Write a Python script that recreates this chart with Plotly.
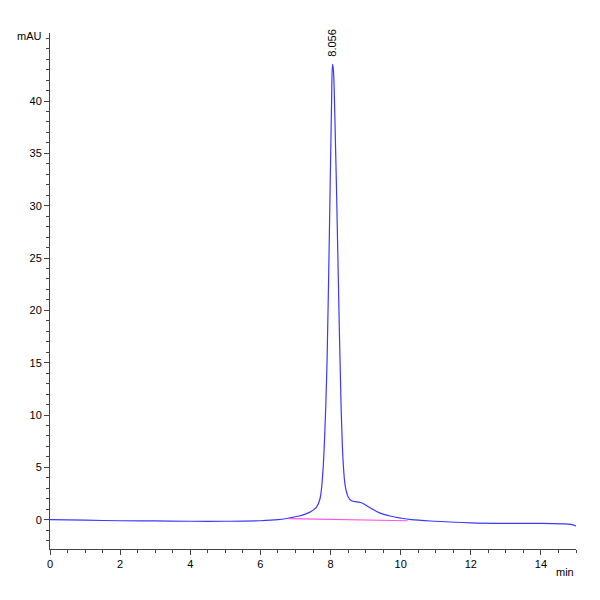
import plotly.graph_objs as go

# chromatogram signal
time_min = [0, 1, 2, 3, 4, 5, 6, 6.5, 6.8, 7.1, 7.4, 7.6, 7.7, 7.78, 7.85, 7.9, 7.95, 8.0, 8.03, 8.056,
            8.08, 8.12, 8.18, 8.24, 8.3, 8.36, 8.42, 8.5, 8.6, 8.75, 8.9, 9.0, 9.2, 9.4, 9.7, 10.0, 10.3,
            11, 12, 13, 14, 14.6, 14.85, 15]
signal_mau = [0.0, -0.05, -0.1, -0.12, -0.15, -0.15, -0.1, 0.0, 0.15, 0.35, 0.7, 1.2, 2.0, 4.5, 9.5, 15.0, 24.0,
              34.0, 40.0, 43.5, 43.0, 39.0, 30.0, 20.0, 11.0, 5.5, 3.2, 2.2, 1.8, 1.7, 1.6, 1.4, 1.0, 0.65,
              0.35, 0.15, 0.0, -0.15, -0.3, -0.35, -0.35, -0.4, -0.45, -0.6]

baseline_t = [6.8, 10.2]
baseline_y = [0.1, -0.1]

peak_rt = 8.056
peak_label = "8.056"

fig = go.Figure()

fig.add_trace(go.Scatter(x=time_min, y=signal_mau, mode="lines",
                         line=dict(color="#3a3aff", width=1.2, shape="spline"), showlegend=False))
fig.add_trace(go.Scatter(x=baseline_t, y=baseline_y, mode="lines",
                         line=dict(color="#ff55dd", width=1.2), showlegend=False))

fig.add_annotation(x=peak_rt, y=44.0, text=peak_label, textangle=-90, showarrow=False,
                   yanchor="bottom", font=dict(size=11, color="black"))
fig.add_annotation(xref="paper", yref="y", x=-0.012, y=46.2, text="mAU", showarrow=False,
                   xanchor="right", font=dict(size=11, color="black"))
fig.add_annotation(xref="paper", yref="paper", x=1.0, y=-0.03, text="min", showarrow=False,
                   xanchor="right", yanchor="top", font=dict(size=11, color="black"))

axis_common = dict(showgrid=False, zeroline=False, showline=True, linecolor="#444", linewidth=1,
                   ticks="outside", ticklen=5, tickcolor="#444",
                   minor=dict(ticks="outside", ticklen=3, tickcolor="#444"))

fig.update_xaxes(range=[0, 15], tickvals=[0, 2, 4, 6, 8, 10, 12, 14],
                 minor_dtick=0.5, **axis_common)
fig.update_yaxes(range=[-2.8, 46.5], tickvals=[0, 5, 10, 15, 20, 25, 30, 35, 40],
                 minor_dtick=1, **axis_common)

fig.update_layout(
    width=600, height=600,
    margin=dict(l=42, r=32, t=25, b=59),
    plot_bgcolor="white", paper_bgcolor="white",
    font=dict(family="Liberation Sans, Arial", size=11, color="black"),
)

fig.write_html("out.html")
